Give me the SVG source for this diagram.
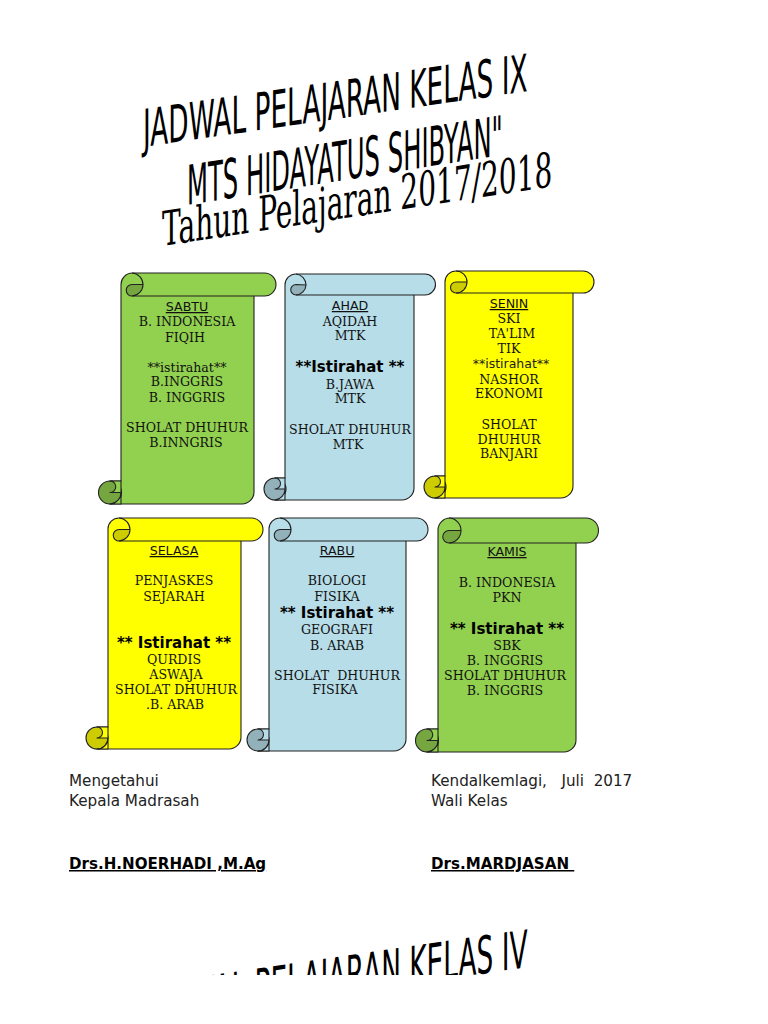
<svg xmlns="http://www.w3.org/2000/svg" width="768" height="1024" viewBox="0 0 768 1024">
<style>
text{fill:#000}
.b{font:12.6px "DejaVu Serif",serif;text-anchor:middle;fill:#111}
.u{font:12.6px "DejaVu Sans",sans-serif;text-anchor:middle;text-decoration:underline;fill:#111}
.i{font:bold 15px "DejaVu Sans",sans-serif;text-anchor:middle}
.f{font:15.2px "DejaVu Sans",sans-serif;fill:#222}
.fb{font:bold 15.1px "DejaVu Sans",sans-serif;text-decoration:underline}
.n{font:12.5px "DejaVu Sans",sans-serif;fill:#222}
.t{font:40px "DejaVu Sans",sans-serif}
.s{font:40px "DejaVu Serif",serif}
.o{stroke:#222;stroke-width:1.1;stroke-linejoin:round}
.l{fill:none;stroke:#222;stroke-width:1.1}
.g{fill:#92D050}.gd{fill:#75A640}.a{fill:#B7DDE8}.ad{fill:#93B1BA}.y{fill:#FF0}.yd{fill:#CC0}
</style>
<defs><clipPath id="c"><rect x="0" y="900" width="768" height="75"/></clipPath></defs>
<g id="title">
<text class="t" transform="matrix(.66,-.096,0,1.3,143,147)">JADWAL PELAJARAN KELAS IX</text>
<text class="t" transform="matrix(.607,-.0965,0,1.37,187,205)">MTS HIDAYATUS SHIBYAN"</text>
<text class="s" transform="matrix(.7,-.107,0,1.2,162,246)">Tahun Pelajaran 2017/2018</text>
</g>
<g id="scroll-sabtu">
<path class="o g" d="M121 285A11.5 11.5 0 0 1 132.500 273H264.500A11.500 11.500 0 0 1 264.500 296H254V492A12 12 0 0 1 242 504H110V481H121Z"/>
<path class="o gd" d="M143 284.500A11.500 11.500 0 0 1 132 296A5.750 5.750 0 0 1 132 284.500Z"/><path class="l" d="M132 273A11.500 11.500 0 0 1 143 284.500M132 296H254"/>
<circle class="o gd" cx="110" cy="492.500" r="11.500"/><path class="o g" d="M110 481H121V504H110A11.500 11.500 0 0 0 121 492.500H110A5.750 5.750 0 0 0 110 481Z"/>
<text class="u" x="187" y="311">SABTU</text>
<text class="b" x="187" y="326">B. INDONESIA</text><text class="b" x="185" y="342">FIQIH</text>
<text class="b" x="187" y="372">**istirahat**</text><text class="b" x="187" y="386">B.INGGRIS</text><text class="b" x="187" y="402">B. INGGRIS</text>
<text class="b" x="187" y="432">SHOLAT DHUHUR</text><text class="b" x="186" y="447">B.INNGRIS</text>
</g>
<g id="scroll-ahad">
<path class="o a" d="M285 285A11 11 0 0 1 296 274H425A10.500 10.500 0 0 1 425 295H414V488A12 12 0 0 1 402 500H275V478H285Z"/>
<path class="o ad" d="M306 285A10.500 10.500 0 0 1 296 295A5.250 5.250 0 0 1 296 284.500Z"/><path class="l" d="M296 274A11 11 0 0 1 306 285M296 295H414"/>
<circle class="o ad" cx="275" cy="489" r="11"/><path class="o a" d="M275 478H285V500H275A11 11 0 0 0 285 489H275A5.500 5.500 0 0 0 275 478Z"/>
<text class="u" x="350" y="310">AHAD</text>
<text class="b" x="350" y="326">AQIDAH</text><text class="b" x="350" y="340">MTK</text>
<text class="i" x="350" y="372">**Istirahat **</text>
<text class="b" x="350" y="389">B.JAWA</text><text class="b" x="350" y="403">MTK</text>
<text class="b" x="350" y="434">SHOLAT DHUHUR</text><text class="b" x="348" y="449">MTK</text>
</g>
<g id="scroll-senin">
<path class="o y" d="M445 282A11 11 0 0 1 456 271H583A11 11 0 0 1 583 293H573V486A12 12 0 0 1 561 498H435V476H445Z"/>
<path class="o yd" d="M467 282A11 11 0 0 1 456 293A5.500 5.500 0 0 1 456 282Z"/><path class="l" d="M456 271A11 11 0 0 1 467 282M456 293H573"/>
<circle class="o yd" cx="435" cy="487" r="11"/><path class="o y" d="M435 476H445V498H435A11 11 0 0 0 445 487H435A5.500 5.500 0 0 0 435 476Z"/>
<text class="u" x="509" y="308">SENIN</text>
<text class="b" x="509" y="323">SKI</text><text class="b" x="512" y="338">TA'LIM</text><text class="b" x="509" y="353">TIK</text>
<text class="n" x="511" y="368" text-anchor="middle">**istirahat**</text><text class="b" x="509" y="384">NASHOR</text><text class="b" x="509" y="398">EKONOMI</text>
<text class="b" x="509" y="429">SHOLAT</text><text class="b" x="509" y="444">DHUHUR</text><text class="b" x="509" y="458">BANJARI</text>
</g>
<g id="scroll-selasa">
<path class="o y" d="M108 529A11 11 0 0 1 119 518H251.500A11.500 11.500 0 0 1 251.500 541H241V737A12 12 0 0 1 229 749H97V727H108Z"/>
<path class="o yd" d="M130 529.500A11.500 11.500 0 0 1 119 541A5.750 5.750 0 0 1 119 529.500Z"/><path class="l" d="M119 518A11.500 11.500 0 0 1 130 529.500M119 541H241"/>
<circle class="o yd" cx="97" cy="738" r="11"/><path class="o y" d="M97 727H108V749H97A11 11 0 0 0 108 738H97A5.500 5.500 0 0 0 97 727Z"/>
<text class="u" x="174" y="555">SELASA</text>
<text class="b" x="174" y="585">PENJASKES</text><text class="b" x="174" y="601">SEJARAH</text>
<text class="i" x="174" y="648">** Istirahat **</text>
<text class="b" x="174" y="664">QURDIS</text><text class="b" x="176" y="679">ASWAJA</text><text class="b" x="176" y="694">SHOLAT DHUHUR</text><text class="b" x="175" y="709">.B. ARAB</text>
</g>
<g id="scroll-rabu">
<path class="o a" d="M269 529A11 11 0 0 1 280 518H416.500A11.500 11.500 0 0 1 416.500 541H406V739A12 12 0 0 1 394 751H258V729H269Z"/>
<path class="o ad" d="M291 529.500A11.500 11.500 0 0 1 280 541A5.750 5.750 0 0 1 280 529.500Z"/><path class="l" d="M280 518A11.500 11.500 0 0 1 291 529.500M280 541H406"/>
<circle class="o ad" cx="258" cy="740" r="11"/><path class="o a" d="M258 729H269V751H258A11 11 0 0 0 269 740H258A5.500 5.500 0 0 0 258 729Z"/>
<text class="u" x="337" y="555">RABU</text>
<text class="b" x="337" y="585">BIOLOGI</text><text class="b" x="337" y="601">FISIKA</text>
<text class="i" x="337" y="618">** Istirahat **</text>
<text class="b" x="337" y="634">GEOGRAFI</text><text class="b" x="337" y="650">B. ARAB</text>
<text class="b" x="337" y="680" xml:space="preserve">SHOLAT  DHUHUR</text><text class="b" x="335" y="694">FISIKA</text>
</g>
<g id="scroll-kamis">
<path class="o g" d="M438 530A12 12 0 0 1 450 518H586A12.500 12.500 0 0 1 586 543H576V740A12 12 0 0 1 564 752H427V729H438Z"/>
<path class="o gd" d="M461 530.500A12.500 12.500 0 0 1 449 543A6.250 6.250 0 0 1 449 530.500Z"/><path class="l" d="M449 518A12.500 12.500 0 0 1 461 530.500M449 543H576"/>
<circle class="o gd" cx="427" cy="740.500" r="11.500"/><path class="o g" d="M427 729H438V752H427A11.500 11.500 0 0 0 438 740.500H427A5.750 5.750 0 0 0 427 729Z"/>
<text class="u" x="507" y="556">KAMIS</text>
<text class="b" x="507" y="587">B. INDONESIA</text><text class="b" x="507" y="602">PKN</text>
<text class="i" x="507" y="634">** Istirahat **</text>
<text class="b" x="507" y="650">SBK</text><text class="b" x="505" y="665">B. INGGRIS</text><text class="b" x="505" y="680">SHOLAT DHUHUR</text><text class="b" x="505" y="695">B. INGGRIS</text>
</g>
<g id="footer">
<text class="f" x="69" y="786">Mengetahui</text><text class="f" x="69" y="806">Kepala Madrasah</text>
<text class="fb" x="69" y="869">Drs.H.NOERHADI ,M.Ag</text>
<text class="f" x="431" y="786" xml:space="preserve">Kendalkemlagi,   Juli  2017</text><text class="f" x="431" y="806">Wali Kelas</text>
<text class="fb" x="431" y="869" xml:space="preserve">Drs.MARDJASAN </text>
</g>
<g id="title-2" clip-path="url(#c)">
<text class="t" transform="matrix(.66,-.096,0,1.3,143,1023)">JADWAL PELAJARAN KELAS IV</text>
</g>
</svg>
